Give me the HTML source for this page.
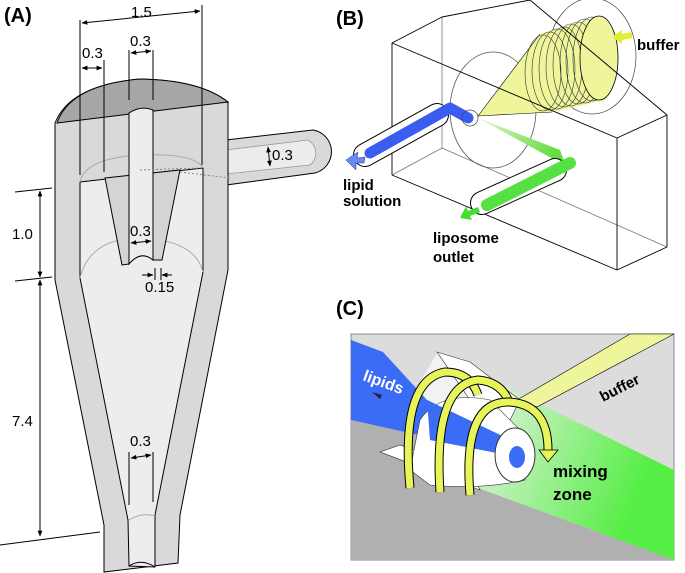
<!DOCTYPE html>
<html><head><meta charset="utf-8"><style>
body{margin:0;background:#fff}
svg{display:block;font-family:"Liberation Sans",sans-serif}
</style></head><body>
<svg width="685" height="573" viewBox="0 0 685 573" xmlns="http://www.w3.org/2000/svg">
<defs>
<marker id="a" viewBox="0 0 10 10" refX="9" refY="5" markerWidth="6" markerHeight="6" orient="auto-start-reverse"><path d="M0,1 L10,5 L0,9 z" fill="#000"/></marker>
<linearGradient id="gz" x1="0" y1="0" x2="1" y2="0.3"><stop offset="0.3" stop-color="#f2f2f2"/><stop offset="1" stop-color="#55ee44"/></linearGradient>
<linearGradient id="gc" x1="0" y1="0" x2="1" y2="0.4"><stop offset="0" stop-color="#ddf7d0"/><stop offset="1" stop-color="#66dd44"/></linearGradient>
</defs>
<!-- Panel A -->
<text x="4" y="22" font-size="20" font-weight="bold">(A)</text>
<path d="M226,140 L313,130 A22,22 0 0 1 315,173 L226,185 Z" fill="#d9d9d9" stroke="#000" stroke-width="1"/>
<path d="M226,150 L308,140 A15,15 0 0 1 310,165 L226,174" fill="#ececec" stroke="#999" stroke-width="0.8"/>
<path d="M55,123 Q70,85 140,79 Q200,80 228,102 L228,270 L180,515 L178,563 L104,572 L104,525 L55,280 Z" fill="#d9d9d9" stroke="#000" stroke-width="1"/>
<path d="M57,123 Q70,85 140,79 Q200,80 228,102 Z" fill="#a6a6a6" stroke="#000" stroke-width="1"/>
<path d="M80,182 L203,168 L203,272 L155,515 L155,567 L129,566 L128,520 L80,278 Z" fill="#ededed" stroke="#000" stroke-width="1"/>
<path d="M80,182 Q85,158 140,155 Q195,153 203,168" fill="none" stroke="#aaa"/>
<path d="M80,278 Q90,238 140,238 Q195,240 203,272" fill="none" stroke="#aaa"/>
<path d="M129,520 Q142,512 155,516" fill="none" stroke="#aaa"/>
<path d="M105,178 L180,170 L162,260 L153,260 L153,110 L129,113 L129,264 L122,265 Z" fill="#d4d4d4" stroke="#000" stroke-width="1"/>
<path d="M129,113 Q141,105 153,110 L153,260 Q141,250 129,264 Z" fill="#ededed" stroke="#000" stroke-width="1"/>
<path d="M140,170 L200,168 M180,172 L230,178" stroke="#888" stroke-dasharray="2,2" fill="none"/>
<path d="M129,566 Q141,558 155,567" fill="none" stroke="#000"/>
<g stroke="#000" stroke-width="1" fill="none">
<line x1="80" y1="20" x2="80" y2="175"/><line x1="202" y1="5" x2="202" y2="165"/>
<line x1="82" y1="23" x2="200" y2="11" marker-start="url(#a)" marker-end="url(#a)"/>
<line x1="104" y1="60" x2="104" y2="172"/>
<line x1="82" y1="68" x2="102" y2="68" marker-start="url(#a)" marker-end="url(#a)"/>
<line x1="129" y1="50" x2="129" y2="100"/><line x1="153" y1="50" x2="153" y2="100"/>
<line x1="131" y1="53" x2="151" y2="51" marker-start="url(#a)" marker-end="url(#a)"/>
<line x1="131" y1="243" x2="151" y2="241" marker-start="url(#a)" marker-end="url(#a)"/>
<line x1="142" y1="275" x2="153" y2="275" marker-end="url(#a)"/><line x1="172" y1="275" x2="162" y2="275" marker-end="url(#a)"/>
<line x1="155" y1="268" x2="155" y2="280"/><line x1="161" y1="268" x2="161" y2="280"/>
<line x1="15" y1="192" x2="52" y2="188"/><line x1="15" y1="281" x2="52" y2="277"/>
<line x1="40" y1="191" x2="40" y2="277" marker-start="url(#a)" marker-end="url(#a)"/>
<line x1="40" y1="280" x2="40" y2="536" marker-start="url(#a)" marker-end="url(#a)"/>
<line x1="0" y1="545" x2="100" y2="532"/>
<line x1="129" y1="452" x2="129" y2="505"/><line x1="153" y1="452" x2="153" y2="502"/>
<line x1="131" y1="458" x2="151" y2="455" marker-start="url(#a)" marker-end="url(#a)"/>
<line x1="268" y1="147" x2="270" y2="166" marker-start="url(#a)" marker-end="url(#a)"/>
</g>
<g font-size="15">
<text x="131" y="17">1.5</text><text x="82" y="58">0.3</text><text x="130" y="46">0.3</text>
<text x="130" y="236">0.3</text><text x="145" y="292">0.15</text><text x="272" y="160">0.3</text>
<text x="12" y="239">1.0</text><text x="12" y="426">7.4</text><text x="130" y="446">0.3</text>
</g>
<!-- Panel B -->
<text x="336" y="25" font-size="20" font-weight="bold">(B)</text>
<g stroke="#000" stroke-width="0.8" fill="none">
<line x1="442" y1="17" x2="442" y2="148" stroke="#777"/><line x1="392" y1="175" x2="442" y2="148" stroke="#777"/><line x1="442" y1="148" x2="667" y2="247" stroke="#777"/>
<ellipse cx="493" cy="110" rx="43" ry="58" stroke="#555"/>
<ellipse cx="592" cy="56" rx="44" ry="58" stroke="#555"/>
</g>
<path d="M478,116 L540,34 L600,16 L606,100 L552,112 Z" fill="#eef59a"/>
<g fill="none" stroke="#333" stroke-width="0.6">
<ellipse cx="543" cy="73" rx="18" ry="38"/><ellipse cx="550" cy="71" rx="18" ry="39"/><ellipse cx="557" cy="69" rx="18" ry="40"/><ellipse cx="564" cy="67" rx="18" ry="40"/><ellipse cx="571" cy="65" rx="18" ry="41"/><ellipse cx="578" cy="63" rx="18" ry="41"/><ellipse cx="585" cy="61" rx="19" ry="42"/><ellipse cx="592" cy="59" rx="19" ry="42"/>
</g>
<ellipse cx="599" cy="58" rx="19" ry="42" fill="#eef59a" stroke="#000" stroke-width="0.8"/>
<path d="M478,116 L540,34 M478,116 L552,112" stroke="#000" stroke-width="0.6"/>
<g stroke="#000" stroke-width="0.9" fill="none">
<line x1="392" y1="43" x2="617" y2="138"/><line x1="392" y1="43" x2="392" y2="175"/><line x1="392" y1="175" x2="617" y2="270"/>
<line x1="617" y1="138" x2="617" y2="270"/><line x1="617" y1="138" x2="667" y2="115"/><line x1="667" y1="115" x2="667" y2="247"/>
<line x1="617" y1="270" x2="667" y2="247"/><line x1="392" y1="43" x2="442" y2="17"/><line x1="442" y1="17" x2="530" y2="0"/>
<line x1="530" y1="0" x2="667" y2="115"/>
</g>
<path d="M478,118 L560,150 L566,166 Z" fill="url(#gc)"/>
<path d="M365,155 L437,115" stroke="#000" stroke-width="24" stroke-linecap="round"/>
<path d="M365,155 L437,115" stroke="#fff" stroke-width="22" stroke-linecap="round"/>
<path d="M370,153 L450,108 L468,118" stroke="#3b5cf0" stroke-width="11" stroke-linecap="round" stroke-linejoin="round" fill="none"/>
<circle cx="470" cy="118" r="8" fill="none" stroke="#444" stroke-width="0.7"/>
<path d="M482,203 L555,170" stroke="#000" stroke-width="24" stroke-linecap="round"/>
<path d="M482,203 L555,170" stroke="#fff" stroke-width="22" stroke-linecap="round"/>
<path d="M487,205 L570,163" stroke="#55e044" stroke-width="12" stroke-linecap="round"/>
<path d="M346,160 L358,152 L357,158 L365,157 L364,163 L356,163 L356,170 Z" fill="#6688ff" stroke="#335" stroke-width="0.5"/>
<path d="M460,218 L466,206 L468,211 L478,207 L480,212 L470,216 L472,220 Z" fill="#44dd33"/>
<path d="M612,37 L622,30 L622,34 L632,32 L632,38 L622,40 L622,44 Z" fill="#ddee33"/>
<g font-size="15" font-weight="bold">
<text x="343" y="190">lipid</text><text x="343" y="206">solution</text>
<text x="433" y="243">liposome</text><text x="433" y="262">outlet</text>
<text x="637" y="50">buffer</text>
</g>
<!-- Panel C -->
<text x="336" y="315" font-size="20" font-weight="bold">(C)</text>
<rect x="351" y="334" width="323" height="226" fill="#dcdcdc" stroke="#888"/>
<path d="M437,353 L674,470 L674,560 L380,452 Z" fill="url(#gz)"/>
<path d="M351,420 L517,457 L380,452 L674,560 L351,560 Z" fill="#b0b0b0"/>
<path d="M380,452 L400,445 L470,470 L480,490 Z" fill="#fff" stroke="#333" stroke-width="0.6"/>
<path d="M351,340 L383,352 L427,400 L517,443 L517,457 L351,420 Z" fill="#3b6cf5"/>
<path d="M630,334 L674,334 L537,407 L517,400 Z" fill="#eef59a" stroke="#000" stroke-width="0.6"/>
<path d="M437,352 L470,362 L520,400 L510,420 L470,400 Z" fill="#fff" stroke="#333" stroke-width="0.6"/>
<path d="M420,420 Q440,390 490,400 L530,440 L525,480 Q480,490 430,485 L410,470 Z" fill="#fff" stroke="#333" stroke-width="0.6"/>
<path d="M427,400 L517,443 L517,457 L430,440 Z" fill="#3b6cf5"/>
<ellipse cx="515" cy="455" rx="20" ry="27" fill="#fff" stroke="#333"/>
<ellipse cx="517" cy="457" rx="8" ry="11" fill="#3b6cf5"/>
<g fill="none" stroke-linecap="butt">
<path d="M410,488 Q400,380 445,372 Q470,372 478,395" stroke="#000" stroke-width="9"/>
<path d="M410,488 Q400,380 445,372 Q470,372 478,395" stroke="#e8f55a" stroke-width="7"/>
<path d="M440,492 Q433,385 478,380 Q503,382 510,405" stroke="#000" stroke-width="9"/>
<path d="M440,492 Q433,385 478,380 Q503,382 510,405" stroke="#e8f55a" stroke-width="7"/>
<path d="M470,495 Q462,400 510,402 Q548,405 548,450" stroke="#000" stroke-width="9"/>
<path d="M470,495 Q462,400 510,402 Q548,405 548,450" stroke="#e8f55a" stroke-width="7"/>
</g>
<path d="M539,450 L558,450 L548,462 Z" fill="#e8f55a" stroke="#000" stroke-width="0.8"/>
<text x="362" y="380" font-size="16" font-weight="bold" fill="#fff" transform="rotate(20 362 380)">lipids</text>
<path d="M372,392 L382,395 L380,399 Z" fill="#224" />
<text x="603" y="402" font-size="15" font-weight="bold" transform="rotate(-27 603 402)">buffer</text>
<text x="553" y="477" font-size="17" font-weight="bold">mixing</text>
<text x="553" y="500" font-size="17" font-weight="bold">zone</text>
</svg>
</body></html>
